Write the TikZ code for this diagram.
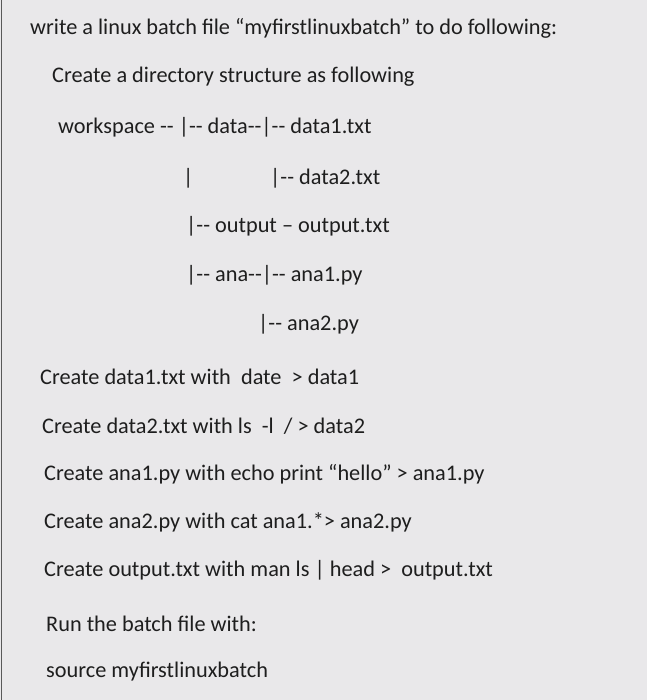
\documentclass[tikz,border=0pt]{standalone}
\usepackage{fontspec}
\setmainfont{Carlito}
\definecolor{bg}{HTML}{E9E8EA}
\definecolor{ink}{HTML}{1E1E1E}
\newcommand{\dd}{-{}-}
\begin{document}
\begin{tikzpicture}[x=1pt,y=-1pt,
  t/.style={anchor=west,inner sep=0pt,text=ink,font=\fontsize{22.3}{26}\selectfont}]
\fill[bg] (0,0) rectangle (647,700);
\useasboundingbox (0,0) rectangle (647,700);
\draw[gray!70!black,line width=1.5pt] (1.5,0) -- (1.5,700);
\node[t] (l1) at (30,28) {write a linux batch file “myfirstlinuxbatch” to do following:};
\node[t] (l2) at (52,77) {Create a directory structure as following};
\node[t] (l3) at (58,127) {workspace \dd{} |\dd{} data\dd|\dd{} data1.txt};
\node[t] (l4a) at (183,178) {|};
\node[t] (l4b) at (270,178) {|\dd{} data2.txt};
\node[t] (l5) at (186,226) {|\dd{} output – output.txt};
\node[t] (l6) at (186,275) {|\dd{} ana\dd|\dd{} ana1.py};
\node[t] (l7) at (258,324) {|\dd{} ana2.py};
\node[t] (l8) at (40,377) {Create data1.txt with~ date~ > data1};
\node[t] (l9) at (42,426) {Create data2.txt with ls~ -l~ / > data2};
\node[t] (l10) at (44,474) {Create ana1.py with echo print “hello” > ana1.py};
\node[t] (l11) at (44,522) {Create ana2.py with cat ana1.*> ana2.py};
\node[t] (l12) at (44,570) {Create output.txt with man ls | head >~ output.txt};
\node[t] (l13) at (46,624) {Run the batch file with:};
\node[t] (l14) at (46,672) {source myfirstlinuxbatch};
\end{tikzpicture}
\end{document}
